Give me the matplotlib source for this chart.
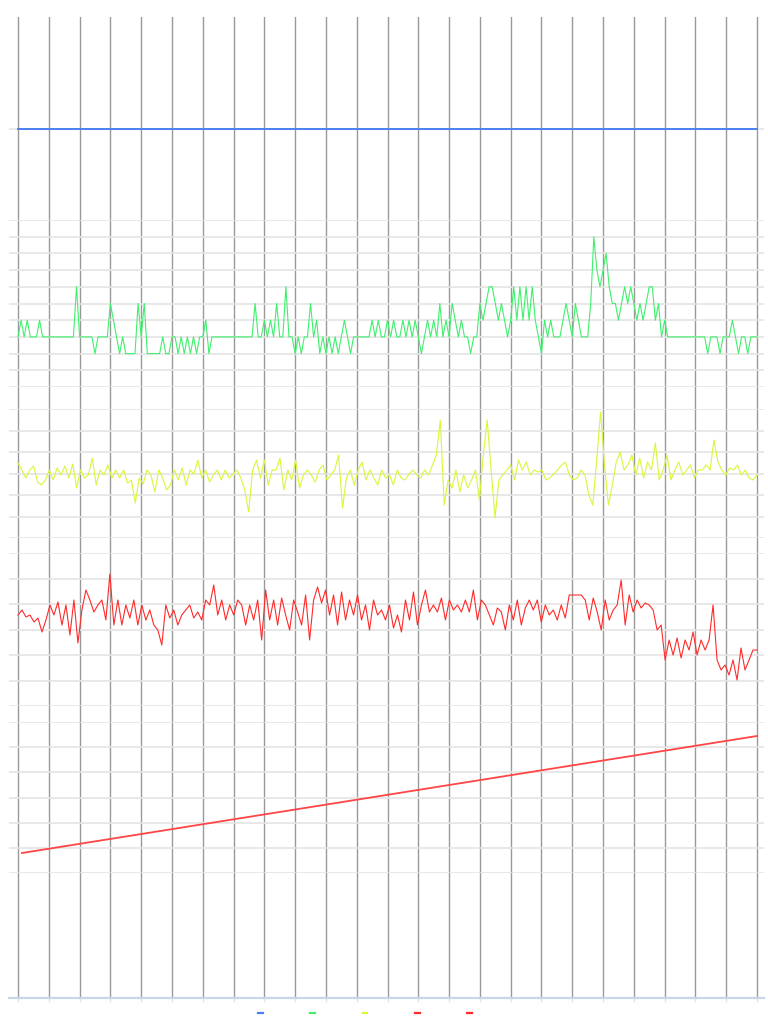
import numpy as np
import matplotlib
matplotlib.use("Agg")
import matplotlib.pyplot as plt
from matplotlib.lines import Line2D

# ---------------- data ----------------
n_periods = 24  # vertical grid intervals

blue = [1.0, 1.0]

green = [3, 4, 3, 4, 3, 3, 3, 4, 3, 3, 3, 3, 3, 3, 3, 3, 3, 3, 3, 6, 3, 3, 3, 3, 3, 2,
         3, 3, 3, 3, 5, 4, 3, 2, 3, 2, 2, 2, 2, 5, 3, 5, 2, 2, 2, 2, 2, 3, 2, 2, 3, 3,
         2, 3, 2, 3, 2, 3, 2, 3, 3, 4, 2, 3, 3, 3, 3, 3, 3, 3, 3, 3, 3, 3, 3, 3, 3, 5,
         3, 3, 4, 3, 4, 3, 5, 3, 3, 6, 3, 3, 2, 3, 2, 3, 3, 5, 3, 4, 2, 3, 2, 3, 2, 3,
         2, 3, 4, 3, 2, 3, 3, 3, 3, 3, 3, 4, 3, 4, 3, 3, 4, 3, 4, 3, 3, 4, 3, 4, 3, 4,
         3, 2, 3, 4, 3, 4, 3, 5, 3, 4, 3, 5, 4, 3, 4, 3, 3, 2, 3, 3, 5, 4, 5, 6, 6, 5,
         4, 5, 4, 3, 4, 6, 4, 6, 4, 6, 4, 6, 4, 3, 2, 4, 3, 4, 3, 3, 3, 4, 5, 4, 3, 5,
         4, 3, 3, 3, 5, 9, 7, 6, 7, 8, 6, 5, 5, 4, 5, 6, 5, 6, 5, 4, 5, 4, 5, 6, 6, 4,
         5, 3, 4, 3, 3, 3, 3, 3, 3, 3, 3, 3, 3, 3, 3, 3, 2, 3, 3, 3, 2, 3, 3, 3, 4, 3,
         2, 3, 3, 2, 3, 3, 3]

yellow = [75, 68, 60, 68, 72, 56, 53, 58, 68, 58, 70, 63, 72, 60, 74, 50, 68, 60, 63, 80,
          53, 68, 63, 73, 60, 68, 60, 68, 55, 58, 35, 60, 54, 68, 63, 46, 68, 60, 48, 53,
          68, 58, 70, 53, 68, 64, 78, 60, 68, 56, 63, 68, 58, 68, 60, 64, 68, 60, 48, 26,
          68, 78, 60, 78, 53, 68, 68, 80, 48, 68, 58, 78, 50, 63, 68, 63, 56, 68, 73, 58,
          63, 68, 83, 30, 60, 68, 53, 68, 76, 58, 68, 60, 53, 68, 60, 63, 53, 68, 60, 58,
          64, 68, 63, 60, 68, 63, 73, 83, 118, 33, 58, 50, 68, 46, 63, 50, 58, 68, 38, 83,
          118, 68, 20, 58, 63, 68, 73, 58, 78, 68, 76, 63, 68, 66, 68, 58, 60, 64, 68, 73,
          76, 63, 58, 60, 68, 63, 43, 33, 78, 126, 73, 33, 53, 76, 86, 68, 73, 83, 63, 80,
          60, 76, 68, 95, 58, 68, 83, 58, 68, 76, 63, 68, 73, 60, 68, 68, 73, 68, 98, 76,
          68, 63, 70, 68, 73, 63, 68, 60, 58, 63]

red = [91, 96, 89, 91, 84, 88, 74, 86, 101, 91, 104, 81, 101, 71, 106, 63, 96, 116, 106, 94,
       101, 106, 86, 132, 81, 106, 81, 101, 88, 106, 81, 101, 86, 96, 81, 76, 61, 101, 88, 96,
       81, 91, 96, 101, 88, 94, 86, 106, 101, 121, 91, 106, 86, 101, 91, 106, 101, 81, 101, 86,
       106, 66, 116, 86, 106, 81, 108, 91, 76, 106, 94, 81, 111, 66, 106, 119, 103, 116, 91, 111,
       81, 114, 86, 106, 91, 111, 86, 101, 76, 106, 91, 96, 86, 101, 78, 91, 74, 106, 86, 114,
       81, 101, 116, 94, 101, 94, 108, 86, 106, 96, 101, 94, 106, 94, 116, 86, 106, 101, 91, 81,
       98, 94, 76, 101, 86, 106, 81, 98, 106, 96, 106, 84, 101, 91, 96, 86, 101, 88, 111, 111,
       111, 111, 106, 86, 108, 94, 76, 106, 86, 96, 101, 126, 81, 111, 94, 106, 98, 103, 101, 96,
       76, 81, 46, 66, 51, 68, 48, 66, 56, 74, 51, 66, 56, 66, 101, 46, 36, 41, 31, 46,
       26, 58, 36, 46, 56, 56]

trend = [20.0, 137.0]
trend_x = [0.13, 24.0]

# ---------------- layout ----------------
W, H, DPI = 768, 1024, 100
fig = plt.figure(figsize=(W / DPI, H / DPI), dpi=DPI)
fig.patch.set_facecolor("white")

X0, X1 = 9, 764            # axes horizontal extent (px)
GX0, GX1 = 18, 757         # first / last vertical grid line (px)
unit = (GX1 - GX0) / n_periods
xlim = (-(GX0 - X0) / unit, n_periods + (X1 - GX1) / unit)


def rect(top_px, bot_px):
    return [X0 / W, 1 - bot_px / H, (X1 - X0) / W, (bot_px - top_px) / H]


HGRID = "#e4e4e4"
VGRID = "#999999"

bg = fig.add_axes(rect(17, 998))
bg.set_xlim(*xlim)
bg.set_ylim(0, 1)
bg.set_xticks(np.arange(0, n_periods + 1))
bg.set_xticklabels([])
bg.set_yticks([])
bg.grid(axis="x", color=VGRID, lw=1.0)
for s in ["top", "left", "right"]:
    bg.spines[s].set_visible(False)
bg.spines["bottom"].set_color("#c9d5e8")
bg.spines["bottom"].set_linewidth(1.6)
bg.tick_params(axis="x", length=3, color="#e0e4ec", width=1)
bg.set_axisbelow(True)


def panel(top_px, bot_px, ylim, yticks):
    a = fig.add_axes(rect(top_px, bot_px))
    a.patch.set_alpha(0)
    a.set_xlim(*xlim)
    a.set_ylim(*ylim)
    a.set_yticks(yticks)
    a.set_xticks([])
    a.tick_params(axis="y", length=0, labelleft=False)
    a.grid(axis="y", color=HGRID, lw=1.2)
    a.set_axisbelow(True)
    for s in a.spines.values():
        s.set_visible(False)
    return a


def xs(n):
    return np.linspace(0, n_periods, n)


# blue panel
ab = panel(119, 139, (0, 2), [1])
ab.plot(xs(len(blue)), blue, color="#4a80f0", lw=1.4)

# green panel
ag = panel(220, 387, (0, 10), np.arange(0, 11))
ag.plot(xs(len(green)), green, color="#3ff06c", lw=0.8)

# yellow panel
ay = panel(409, 538, (0, 129), np.linspace(0, 129, 7))
ay.plot(xs(len(yellow)), yellow, color="#dcf53a", lw=0.8)

# red panel
ar = panel(553, 706, (0, 153), np.linspace(0, 153, 7))
ar.plot(xs(len(red)), red, color="#ff2a2a", lw=0.8)

# trend panel
at = panel(722, 873, (0, 151), np.linspace(0, 151, 7))
at.plot(trend_x, trend, color="#ff4545", lw=1.3)

# legend (no labels)
colors = ["#4a80f0", "#3ff06c", "#dcf53a", "#ff2a2a", "#ff2a2a"]
handles = [Line2D([0], [0], color=c, lw=1.6) for c in colors]
fig.legend(handles, [""] * 5, loc="center", bbox_to_anchor=(365 / W, 1 - 1014 / H),
           ncol=5, frameon=False, handlelength=0.35, handletextpad=0.0,
           columnspacing=3.4, fontsize=10)

fig.savefig("out.png", dpi=DPI, facecolor="white")
